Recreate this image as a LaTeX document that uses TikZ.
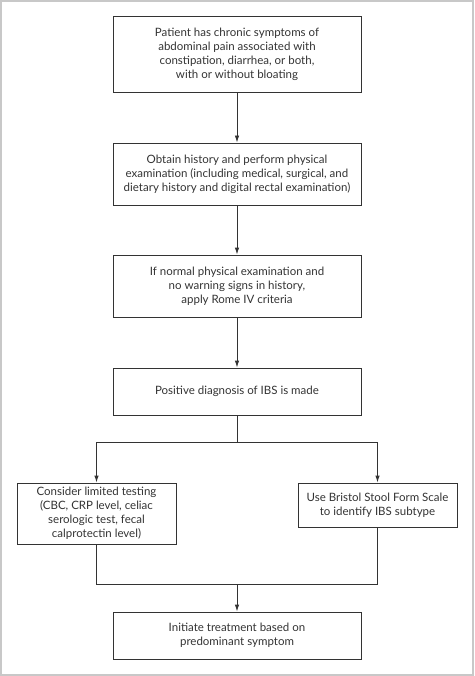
\documentclass[tikz,border=0pt]{standalone}
\usepackage{fontspec}
\setmainfont{Lato}
\usepackage{tikz}
\usetikzlibrary{calc,arrows.meta}

\definecolor{framegray}{HTML}{C8C8C8}
\definecolor{inkgray}{HTML}{333333}

\tikzset{
  stepbox/.style={draw=inkgray, line width=0.9pt, text=inkgray, align=center,
    inner sep=2pt, font=\fontsize{11.5}{14}\selectfont},
  flow/.style={draw=inkgray, line width=0.9pt, -{Latex[length=7pt,width=4.5pt]}},
  link/.style={draw=inkgray, line width=0.9pt}
}

\begin{document}
\begin{tikzpicture}[x=1pt,y=1pt]
			\useasboundingbox (0,0) rectangle (474,-676);
			\draw[framegray, line width=2pt] (1,-1) rectangle (473,-675);
			
			% main column
			\node[stepbox, minimum width=248, minimum height=76] (symptoms) at (237,-54)
				{Patient has chronic symptoms of\\abdominal pain associated with\\constipation, diarrhea, or both,\\with or without bloating};
			\node[stepbox, minimum width=248, minimum height=62] (history) at (237,-174)
				{Obtain history and perform physical\\examination (including medical, surgical, and\\dietary history and digital rectal examination)};
			\node[stepbox, minimum width=248, minimum height=62] (rome) at (237,-286)
				{If normal physical examination and\\no warning signs in history,\\apply Rome IV criteria};
			\node[stepbox, minimum width=248, minimum height=47] (diagnosis) at (237,-391.5)
				{Positive diagnosis of IBS is made};
			
			% two branches
			\node[stepbox, minimum width=159, minimum height=61] (testing) at (96.5,-513.5)
				{Consider limited testing\\(CBC, CRP level, celiac\\serologic test, fecal\\calprotectin level)};
			\node[stepbox, minimum width=159, minimum height=44] (bristol) at (377.5,-505)
				{Use Bristol Stool Form Scale\\to identify IBS subtype};
			
			\node[stepbox, minimum width=248, minimum height=47] (treatment) at (237,-635.5)
				{Initiate treatment based on\\predominant symptom};
			
			\coordinate (split) at (237,-442);
			\coordinate (merge) at (237,-584);
			
			\draw[flow] (symptoms) -- (history);
			\draw[flow] (history) -- (rome);
			\draw[flow] (rome) -- (diagnosis);
			\draw[link] (diagnosis) -- (split);
			\draw[flow] (split) -| (testing);
			\draw[flow] (split) -| (bristol);
			\draw[link] (testing) |- (merge);
			\draw[link] (bristol) |- (merge);
			\draw[flow] (merge) -- (treatment);
		\end{tikzpicture}
\end{document}
